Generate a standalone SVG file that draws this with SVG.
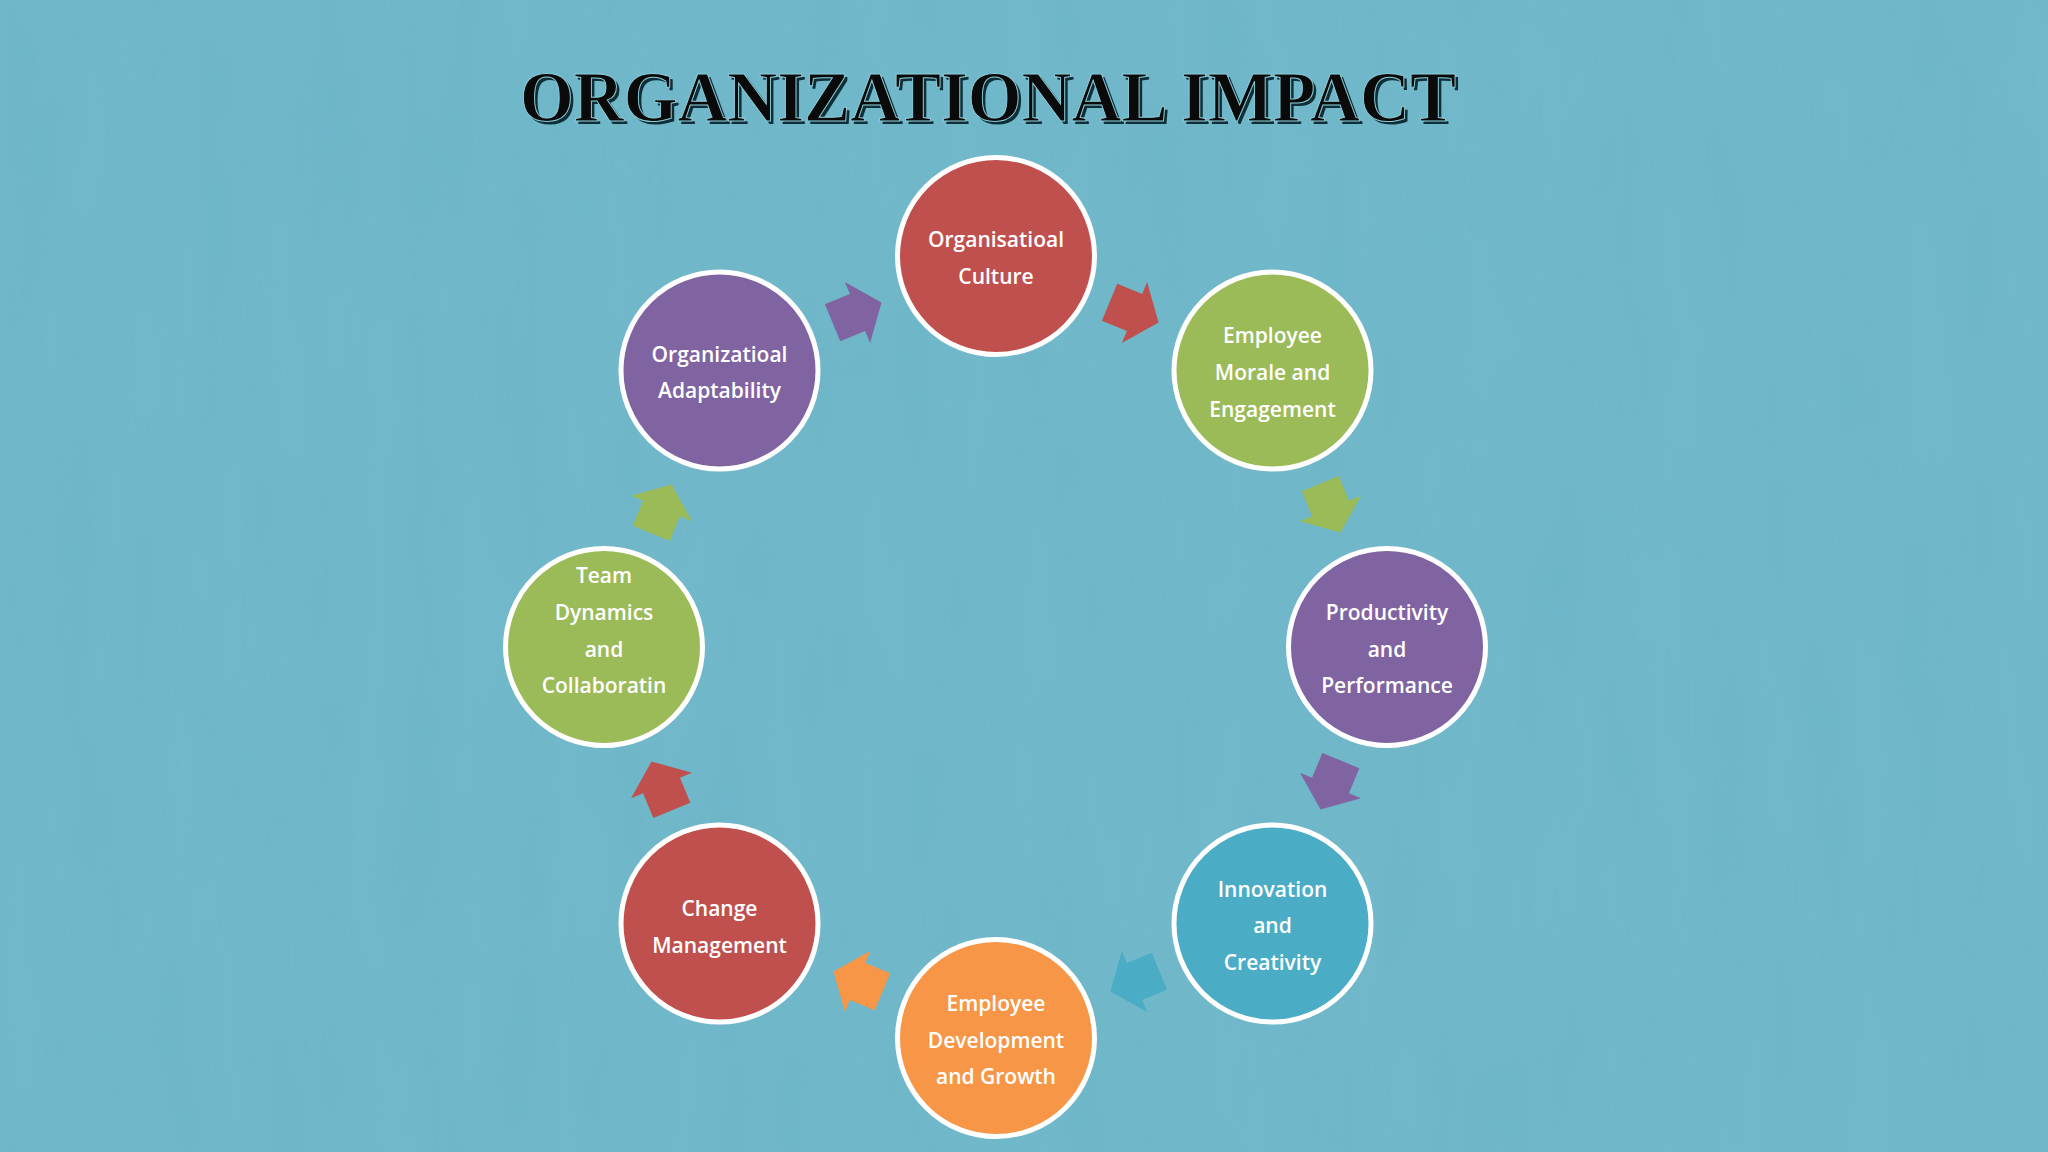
<svg xmlns="http://www.w3.org/2000/svg" width="2048" height="1152" viewBox="0 0 2048 1152">
  <defs>
    <style>
      .node circle { stroke: #ffffff; stroke-width: 5; }
      .lbl { font-family: "Open Sans", "Noto Sans", "Liberation Sans", sans-serif; font-weight: 600; font-size: 21px; fill: #ffffff; text-anchor: middle; }
      .title { font-family: "Liberation Serif", "DejaVu Serif", serif; font-weight: bold; font-size: 72px; text-anchor: middle; }
      .red { fill: #C0504D; }
      .green { fill: #9BBB59; }
      .purple { fill: #8064A2; }
      .blue { fill: #4BACC6; }
      .orange { fill: #F79646; }
    </style>
    <path id="arw" d="M-27,-20 H0 V-33 L26,0 L0,33 V20 H-27 Z"/>
    <filter id="tex" x="0" y="0" width="100%" height="100%">
      <feTurbulence type="fractalNoise" baseFrequency="0.02 0.004" numOctaves="3" seed="4"/>
      <feColorMatrix type="matrix" values="0 0 0 0 0.35  0 0 0 0 0.65  0 0 0 0 0.75  0 0 0 0.18 0"/>
    </filter>
  </defs>

  <rect x="0" y="0" width="2048" height="1152" fill="#6DB6C8"/>
  <rect x="0" y="0" width="2048" height="1152" filter="url(#tex)" opacity="0.6"/>

  <g id="title">
    <text class="title" x="991" y="124" fill="#0E2F38" textLength="936" lengthAdjust="spacingAndGlyphs">ORGANIZATIONAL IMPACT</text>
    <text class="title" x="988" y="121" fill="#0a0a0a" stroke="#8ccbd9" stroke-width="1" textLength="936" lengthAdjust="spacingAndGlyphs">ORGANIZATIONAL IMPACT</text>
  </g>

  <g id="connectors">
    <use href="#arw" class="red" transform="translate(1134.5,312.5) rotate(22.5)"/>
    <use href="#arw" class="green" transform="translate(1330.5,508.5) rotate(67.5)"/>
    <use href="#arw" class="purple" transform="translate(1330.5,785.5) rotate(112.5)"/>
    <use href="#arw" class="blue" transform="translate(1134.5,981.5) rotate(157.5)"/>
    <use href="#arw" class="orange" transform="translate(857.5,981.5) rotate(202.5)"/>
    <use href="#arw" class="red" transform="translate(661.5,785.5) rotate(247.5)"/>
    <use href="#arw" class="green" transform="translate(661.5,508.5) rotate(292.5)"/>
    <use href="#arw" class="purple" transform="translate(857.5,312.5) rotate(337.5)"/>
  </g>

  <g id="node-culture" class="node">
    <circle class="red" cx="996" cy="256" r="98.5"/>
    <text class="lbl" x="996" y="247">Organisatioal</text>
    <text class="lbl" x="996" y="284">Culture</text>
  </g>
  <g id="node-morale" class="node">
    <circle class="green" cx="1272.5" cy="370.5" r="98.5"/>
    <text class="lbl" x="1272.5" y="343">Employee</text>
    <text class="lbl" x="1272.5" y="380">Morale and</text>
    <text class="lbl" x="1272.5" y="417">Engagement</text>
  </g>
  <g id="node-productivity" class="node">
    <circle class="purple" cx="1387" cy="647" r="98.5"/>
    <text class="lbl" x="1387" y="620">Productivity</text>
    <text class="lbl" x="1387" y="657">and</text>
    <text class="lbl" x="1387" y="693">Performance</text>
  </g>
  <g id="node-innovation" class="node">
    <circle class="blue" cx="1272.5" cy="923.5" r="98.5"/>
    <text class="lbl" x="1272.5" y="896.5">Innovation</text>
    <text class="lbl" x="1272.5" y="933">and</text>
    <text class="lbl" x="1272.5" y="970">Creativity</text>
  </g>
  <g id="node-development" class="node">
    <circle class="orange" cx="996" cy="1038" r="98.5"/>
    <text class="lbl" x="996" y="1011">Employee</text>
    <text class="lbl" x="996" y="1048">Development</text>
    <text class="lbl" x="996" y="1084">and Growth</text>
  </g>
  <g id="node-change" class="node">
    <circle class="red" cx="719.5" cy="923.5" r="98.5"/>
    <text class="lbl" x="719.5" y="915.5">Change</text>
    <text class="lbl" x="719.5" y="952.5">Management</text>
  </g>
  <g id="node-team" class="node">
    <circle class="green" cx="604" cy="647" r="98.5"/>
    <text class="lbl" x="604" y="583">Team</text>
    <text class="lbl" x="604" y="620">Dynamics</text>
    <text class="lbl" x="604" y="657">and</text>
    <text class="lbl" x="604" y="693">Collaboratin</text>
  </g>
  <g id="node-adaptability" class="node">
    <circle class="purple" cx="719.5" cy="370.5" r="98.5"/>
    <text class="lbl" x="719.5" y="362">Organizatioal</text>
    <text class="lbl" x="719.5" y="398">Adaptability</text>
  </g>
</svg>
